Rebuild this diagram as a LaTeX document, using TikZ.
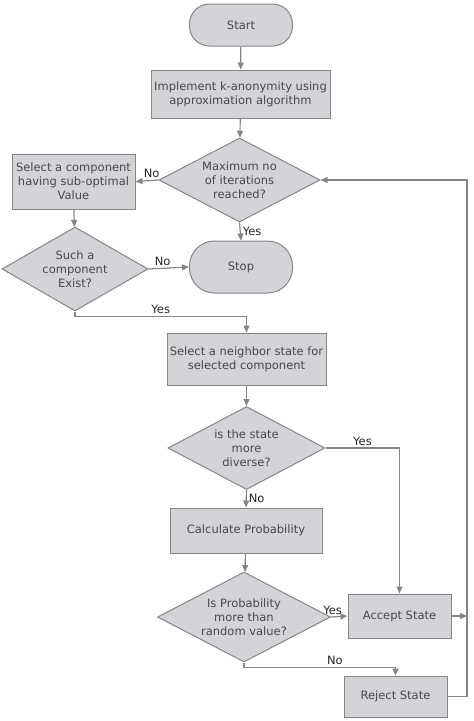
\documentclass[tikz,border=0pt]{standalone}
\usepackage{fontspec}
\setmainfont{DejaVu Sans}
\usetikzlibrary{shapes.geometric,arrows.meta}

\definecolor{boxfill}{HTML}{D2D4D7}
\definecolor{boxline}{HTML}{858585}
\definecolor{boxtext}{HTML}{484848}

\begin{document}
\begin{tikzpicture}[x=1pt, y=-1pt, font=\fontsize{11.5}{14}\selectfont]

    % Styles for the flow chart shapes
    \tikzset{
      base/.style={draw=boxline, fill=boxfill, text=boxtext, align=center, line width=1pt},
      term/.style={base, rounded corners=20pt, minimum width=103pt, minimum height=42pt},
      proc/.style={base, rectangle, inner sep=1pt},
      dec/.style={base, diamond, aspect=1.9, inner sep=0pt},
      arr/.style={draw=boxline, line width=1.2pt, -{Triangle[width=6pt,length=7pt]}},
      lbl/.style={inner sep=2pt, text=black!85}
    }

    \useasboundingbox (0,0) rectangle (474,721);

    % Right hand return line
    \def\xret{467}

    % --- Nodes ---
    \node[term] (start) at (241,25) {Start};
    \node[proc, minimum width=179pt, minimum height=48pt] (impl) at (240.5,94)
      {Implement k-anonymity using\\approximation algorithm};
    \node[dec, minimum width=161pt, minimum height=84pt] (maxit) at (239.5,180)
      {Maximum no\\of iterations\\reached?};
    \node[proc, minimum width=123pt, minimum height=55pt] (selcomp) at (73.5,181.5)
      {Select a component\\having sub-optimal\\Value};
    \node[dec, minimum width=146pt, minimum height=84pt] (exist) at (75,269)
      {Such a\\component\\Exist?};
    \node[term, minimum height=52pt, rounded corners=25pt] (stop) at (241,267) {Stop};
    \node[proc, minimum width=159pt, minimum height=52pt] (neigh) at (246.5,359)
      {Select a neighbor state for\\selected component};
    \node[dec, minimum width=157pt, minimum height=83pt] (diverse) at (246.5,448)
      {is the state\\more\\diverse?};
    \node[proc, minimum width=152pt, minimum height=45pt] (calc) at (246,530.5)
      {Calculate Probability};
    \node[dec, minimum width=173pt, minimum height=90pt] (prob) at (244,617)
      {Is Probability\\more than\\random value?};
    \node[proc, minimum width=103pt, minimum height=44pt] (accept) at (399.5,616)
      {Accept State};
    \node[proc, minimum width=103pt, minimum height=41pt] (reject) at (395.5,696.5)
      {Reject State};

    \coordinate (rtop) at (\xret,180);
    \coordinate (rmid) at (\xret,616);

    % --- Connectors ---
    \draw[arr] (start) -- (impl);
    \draw[arr] (impl) -- (maxit);
    \draw[arr] (maxit.west) -- node[lbl, above, pos=0.3] {No} (selcomp.east);
    \draw[arr] (maxit.south) -- node[lbl, right] {Yes} (stop.north);
    \draw[arr] (selcomp) -- (exist);
    \draw[arr] (exist.east) -- node[lbl, above, pos=0.35] {No} (stop.west);
    \draw[arr] (exist.south) -- ++(0,5) -| node[lbl, above, pos=0.25] {Yes} (neigh.north);
    \draw[arr] (neigh) -- (diverse);
    \draw[arr] (diverse.east) -| node[lbl, above, pos=0.25] {Yes} (accept.north);
    \draw[arr] (diverse.south) -- node[lbl, right] {No} (calc.north);
    \draw[arr] (calc) -- (prob);
    \draw[arr] (prob.east) -- node[lbl, above, pos=0.1] {Yes} (accept.west);
    \draw[arr] (prob.south) -- ++(0,5) -| node[lbl, above, pos=0.3] {No} (reject.north);
    \draw[arr] (accept.east) -- (rmid);
    \draw[arr] (reject.east) -| (rtop) -- (maxit.east);
\end{tikzpicture}
\end{document}
